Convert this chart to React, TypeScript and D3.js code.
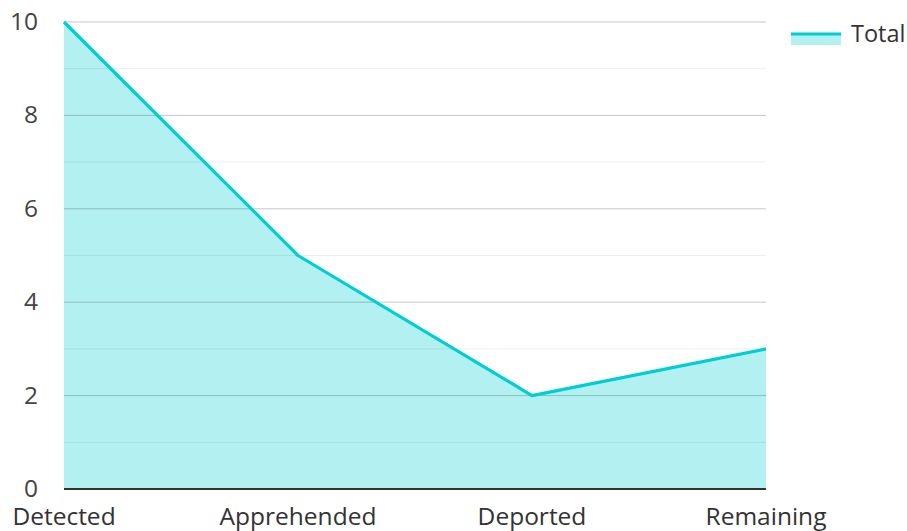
import React from "react";
import * as d3 from "d3";

const categories = ["Detected", "Apprehended", "Deported", "Remaining"];
const totals = [10, 5, 2, 3];
const yTicks = [0, 2, 4, 6, 8, 10];
const minorTicks = [1, 3, 5, 7, 9];
const seriesName = "Total";

const W = 907;
const H = 531;
const M = { left: 64, right: 141, top: 22, bottom: 42 };
const LINE = "#00CED1";
const FONT = "'Open Sans', 'Noto Sans', sans-serif";
const FS = 24.5;

export default function App() {
  const x = d3
    .scalePoint<string>()
    .domain(categories)
    .range([M.left, W - M.right]);
  const y = d3
    .scaleLinear()
    .domain([0, 10])
    .range([H - M.bottom, M.top]);
  const data = categories.map((c, i) => ({ c, v: totals[i] }));
  const area = d3
    .area<{ c: string; v: number }>()
    .x((d) => x(d.c)!)
    .y0(y(0))
    .y1((d) => y(d.v));
  const line = d3
    .line<{ c: string; v: number }>()
    .x((d) => x(d.c)!)
    .y((d) => y(d.v));
  const x0 = M.left;
  const x1 = W - M.right;
  return (
    <svg
      width={W}
      height={H}
      style={{ position: "absolute", left: 0, top: 0, fontFamily: FONT }}
    >
      <rect width={W} height={H} fill="#fff" />
      <path d={area(data)!} fill={LINE} fillOpacity={0.3} />
      {minorTicks.map((t) => (
        <line key={"m" + t} x1={x0} x2={x1} y1={y(t)} y2={y(t)} stroke="#000" strokeOpacity={0.07} />
      ))}
      {yTicks.filter((t) => t > 0).map((t) => (
        <line key={"g" + t} x1={x0} x2={x1} y1={y(t)} y2={y(t)} stroke="#000" strokeOpacity={0.22} />
      ))}
      <path d={line(data)!} fill="none" stroke={LINE} strokeWidth={3.2} strokeLinejoin="round" />
      <line x1={x0} x2={x1} y1={y(0)} y2={y(0)} stroke="#333" strokeWidth={2} />
      {yTicks.map((t) => (
        <text key={"y" + t} x={38} y={y(t)} dy="0.33em" textAnchor="end" fontSize={FS} fill="#444">
          {t}
        </text>
      ))}
      {categories.map((c) => (
        <text key={c} x={x(c)} y={525} textAnchor="middle" fontSize={FS} fill="#333">
          {c}
        </text>
      ))}
      <g>
        <rect x={791} y={35} width={50} height={10} fill={LINE} fillOpacity={0.3} />
        <line x1={791} x2={841} y1={34} y2={34} stroke={LINE} strokeWidth={3} />
        <text x={851} y={42} fontSize={23.5} fill="#333">
          {seriesName}
        </text>
      </g>
    </svg>
  );
}
